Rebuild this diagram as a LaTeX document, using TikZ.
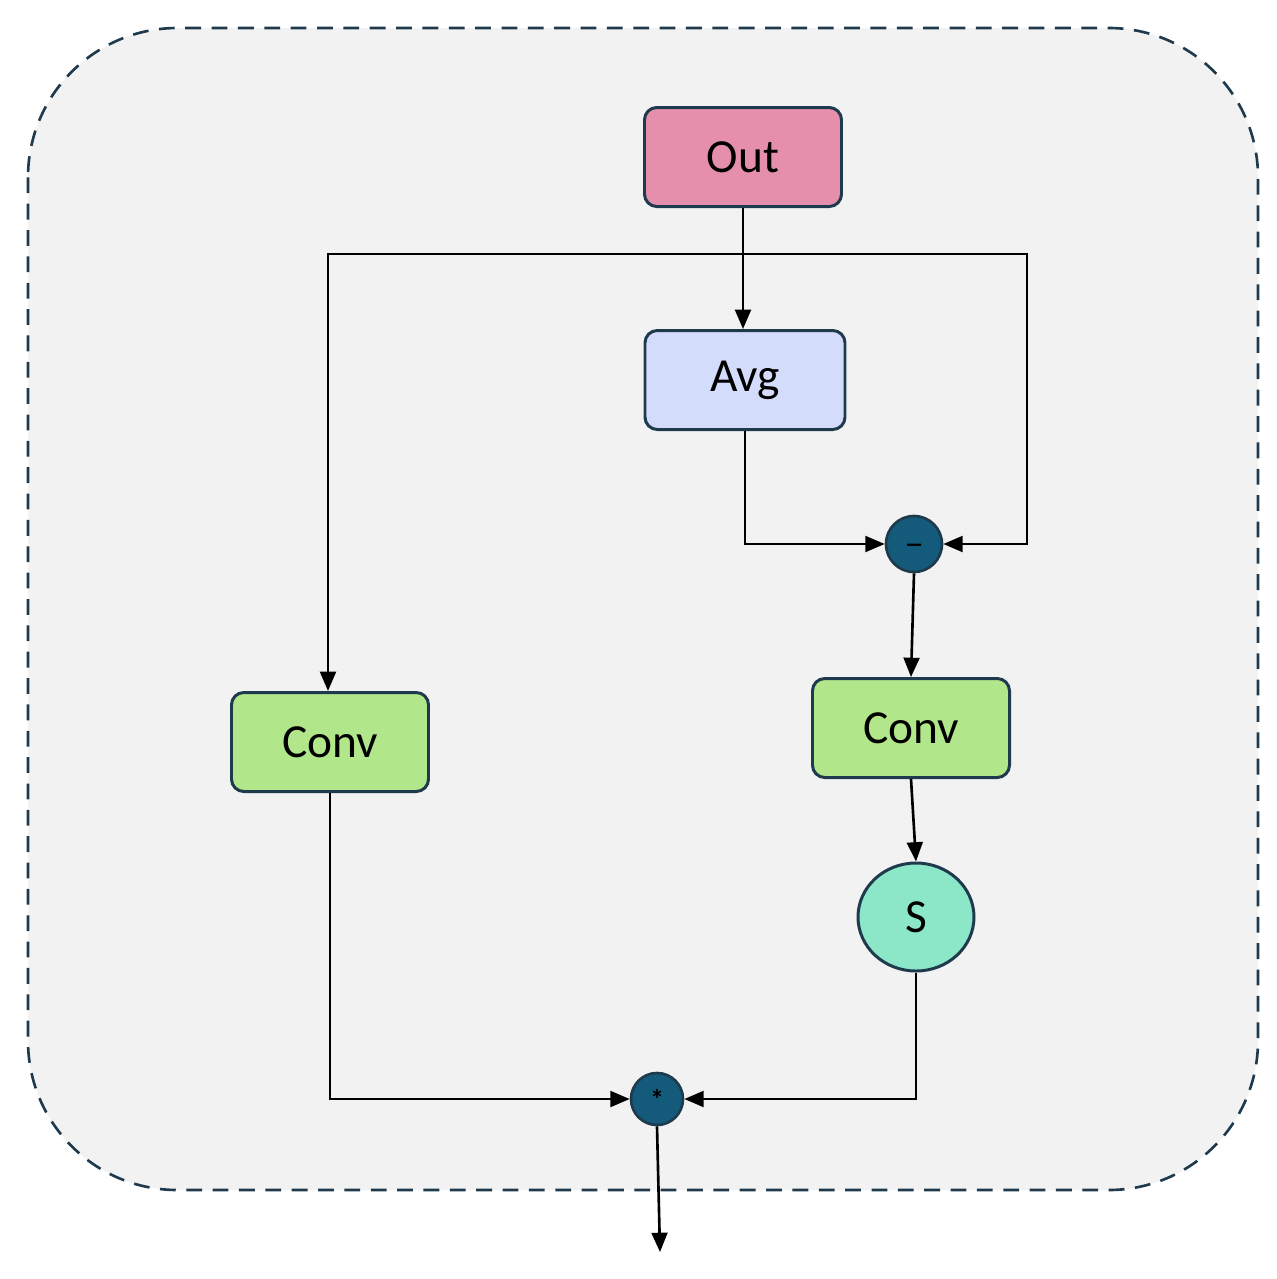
\documentclass[tikz,border=0pt]{standalone}
\usepackage{fontspec}
\setmainfont{Carlito}
\usetikzlibrary{arrows.meta,shapes.geometric}
\definecolor{frame}{HTML}{1F3A4D}
\definecolor{bg}{HTML}{F2F2F2}
\definecolor{outc}{HTML}{E68FAC}
\definecolor{avgc}{HTML}{D4DCFC}
\definecolor{convc}{HTML}{B2E68A}
\definecolor{opc}{HTML}{145A7A}
\definecolor{sc}{HTML}{8CE6C8}
\begin{document}
\begin{tikzpicture}[x=0.02cm,y=-0.02cm,
  box/.style={draw=frame,line width=1.7pt,rounded corners=7pt,minimum width=197*0.02cm,minimum height=99*0.02cm,font=\fontsize{27}{30}\selectfont,inner sep=0pt},
  op/.style={circle,draw=frame,line width=1.5pt,fill=opc,minimum size=56*0.02cm,inner sep=0pt,font=\fontsize{16}{18}\selectfont\bfseries},
  ar/.style={line width=1.5pt,-{Triangle[length=11pt,width=9pt]}},
  ln/.style={line width=1.5pt}]
\useasboundingbox (0,0) rectangle (1276,1279);
\draw[frame,fill=bg,dashed,dash pattern=on 9pt off 6pt,line width=1.5pt,rounded corners=85pt] (28,28) rectangle (1258,1190);
\node[box,fill=outc] (out) at (743,157) {Out};
\node[box,fill=avgc,minimum width=200*0.02cm] (avg) at (745,380) {Avg};
\node[op] (minus) at (914,544) {\_};
\node[box,fill=convc] (convr) at (911,728) {Conv};
\node[ellipse,draw=frame,line width=1.7pt,fill=sc,minimum width=116*0.02cm,minimum height=108*0.02cm,inner sep=0pt,font=\fontsize{27}{30}\selectfont] (s) at (916,917) {S};
\node[box,fill=convc] (convl) at (330,742) {Conv};
\node[op,minimum size=52*0.02cm] (star) at (657,1099) {*};
\coordinate (end) at (660,1252);
\coordinate (split) at (743,254);
\draw[ar] (out.south) -- (avg.north -| out.south);
\draw[ar] (split) -- (328,254) -- (convl.north -| 328,0);
\draw[ar] (split) -- (1027,254) -- (1027,544) -- (minus.east);
\draw[ar] (avg.south) -- (745,544) -- (minus.west);
\draw[ar] (minus.south) -- (convr.north);
\draw[ar] (convr.south) -- (s.north);
\draw[ar] (s.south) -- (916,1099) -- (star.east);
\draw[ar] (convl.south) -- (330,1099) -- (star.west);
\draw[ar] (star.south) -- (end);
\end{tikzpicture}
\end{document}
